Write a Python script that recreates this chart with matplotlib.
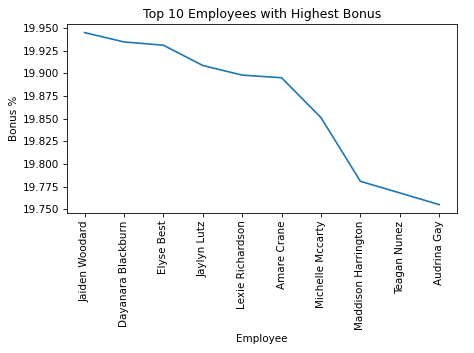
import matplotlib
matplotlib.use("Agg")
import matplotlib.pyplot as plt
from matplotlib.ticker import FormatStrFormatter, MultipleLocator

employees = ["Jaiden Woodard", "Dayanara Blackburn", "Elyse Best", "Jaylyn Lutz",
             "Lexie Richardson", "Amare Crane", "Michelle Mccarty",
             "Maddison Harrington", "Teagan Nunez", "Audrina Gay"]
bonus = [19.9449, 19.9346, 19.9310, 19.9086, 19.8980, 19.8951, 19.8511,
         19.7808, 19.7680, 19.7551]

dpi = 75
fig, ax = plt.subplots(figsize=(474 / dpi, 353 / dpi), dpi=dpi)
ax.plot(employees, bonus, color="#1f77b4", linewidth=1.6)
ax.set_title("Top 10 Employees with Highest Bonus")
ax.set_xlabel("Employee")
ax.set_ylabel("Bonus %")
ax.yaxis.set_major_locator(MultipleLocator(0.025))
ax.yaxis.set_major_formatter(FormatStrFormatter("%.3f"))
plt.xticks(rotation=90)
fig.subplots_adjust(left=0.141, right=0.964, top=0.932, bottom=0.396)
fig.savefig("out.png", dpi=dpi)
